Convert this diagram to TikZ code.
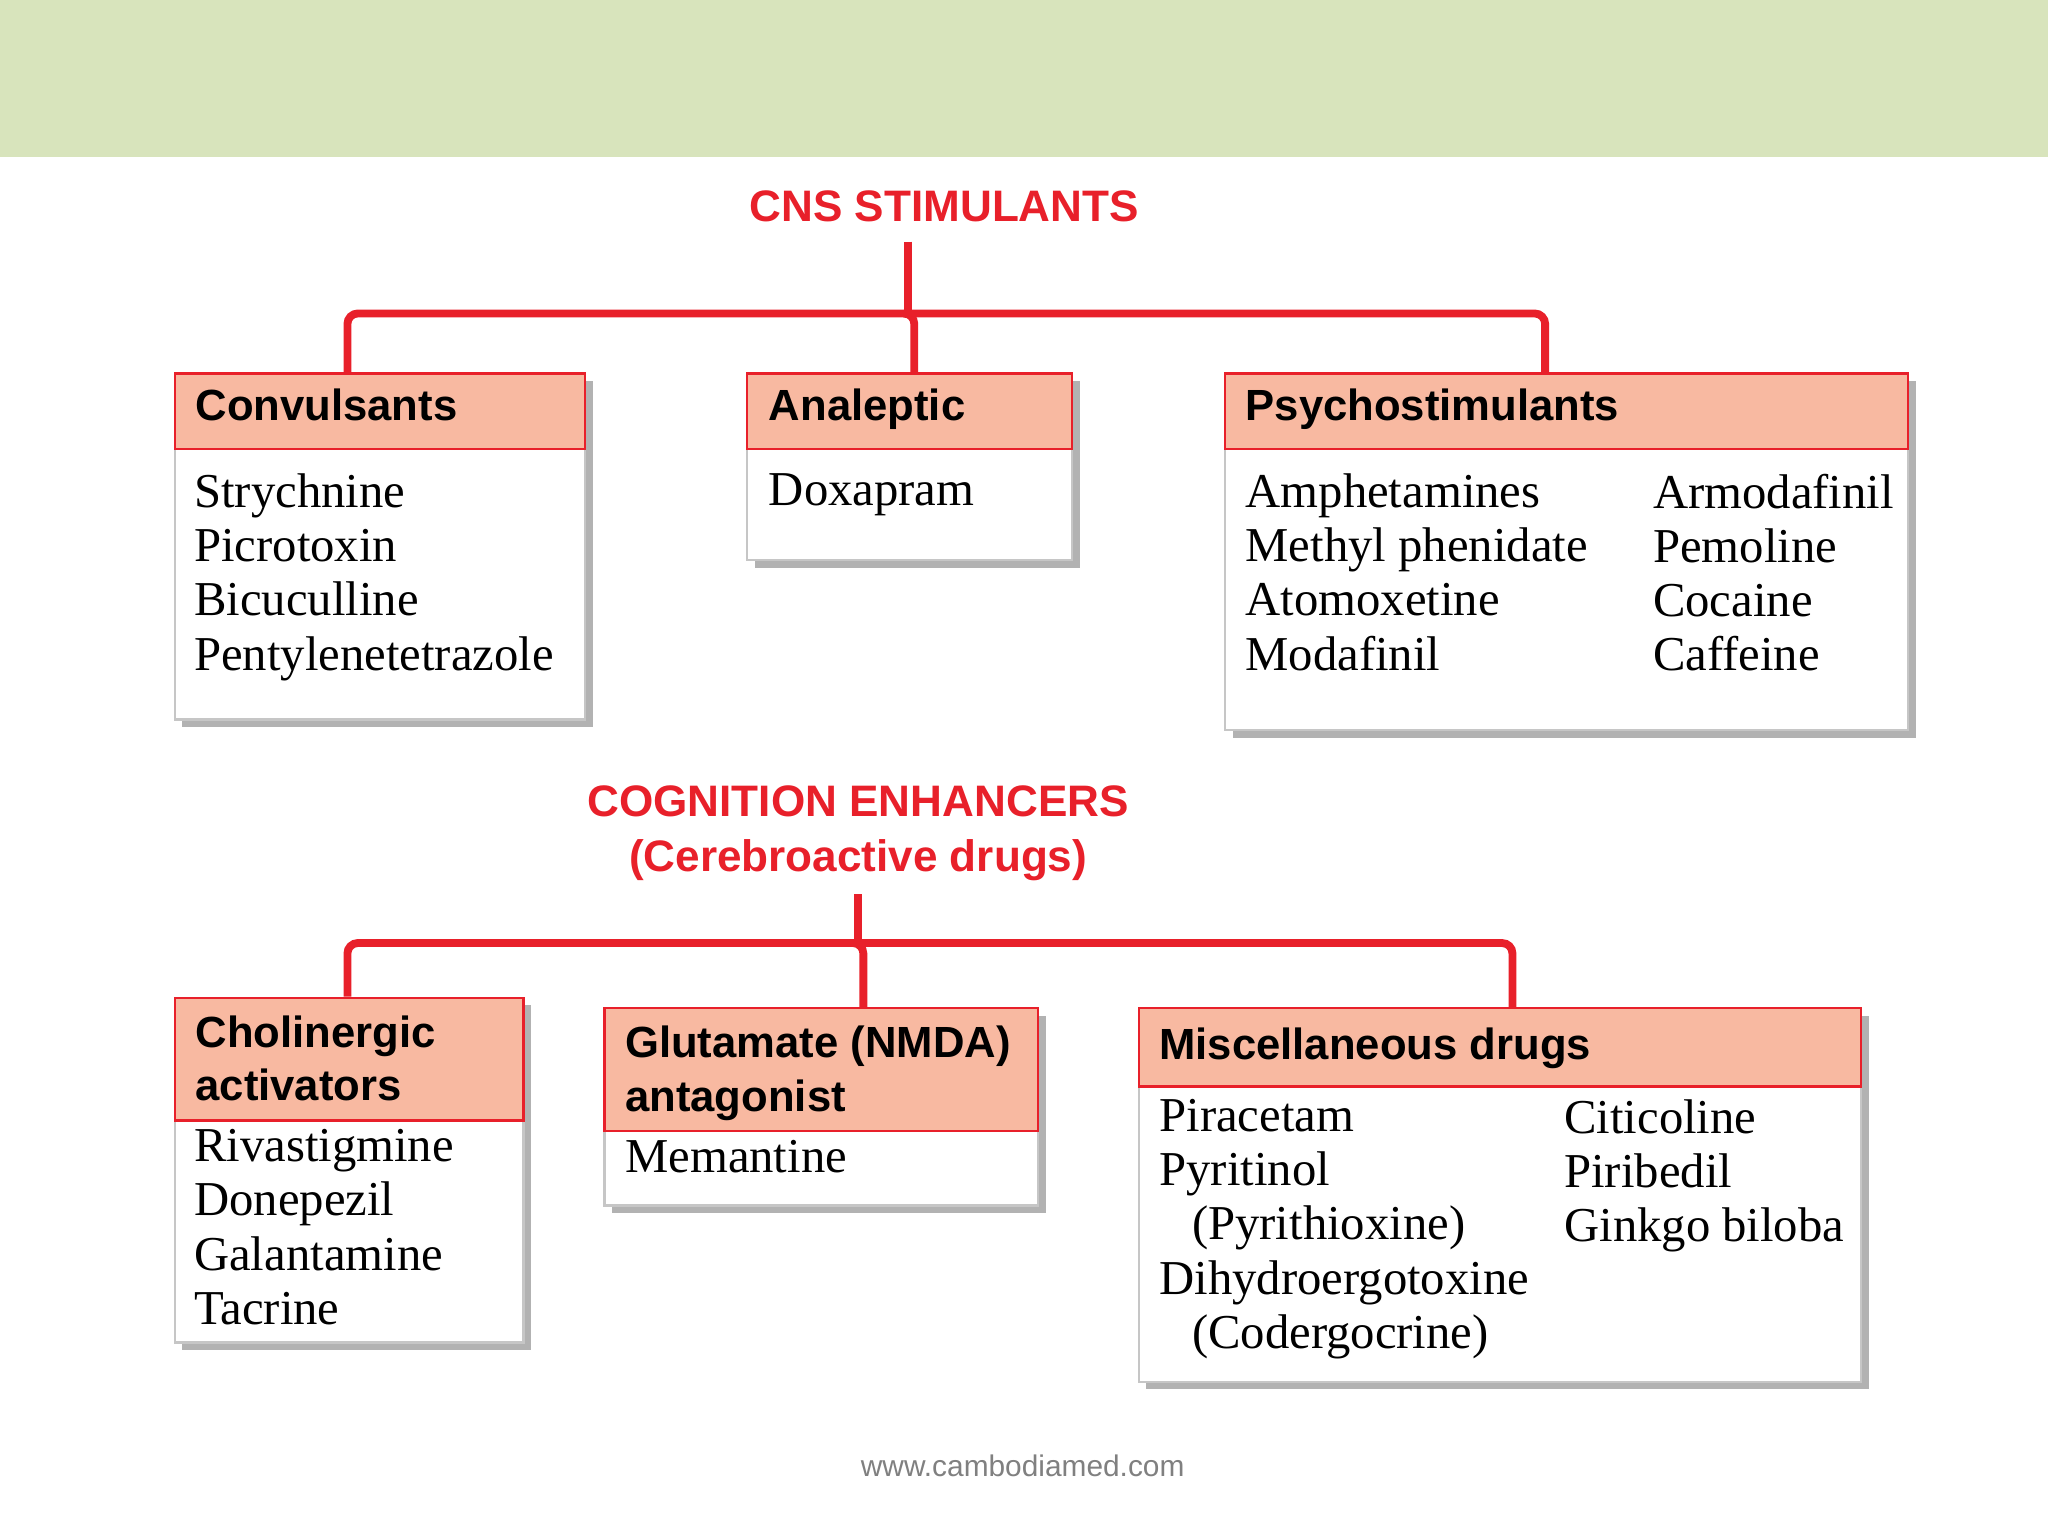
\documentclass[tikz,border=0pt]{standalone}
\usepackage{fontspec}
\setmainfont{Liberation Serif}
\setsansfont{Liberation Sans}
\begin{document}
\begin{tikzpicture}[x=0.01cm,y=-0.01cm,
  link/.style={draw=cnsred,line width=0.06cm,rounded corners=0.08cm},
  hdr/.style={draw=cnsred,line width=0.5pt,fill=hdrfill,anchor=north west,inner sep=0},
  body/.style={draw=gray!45,line width=0.5pt,fill=white,anchor=north west,inner sep=0},
  shadow/.style={fill=gray!60,draw=none,anchor=north west,inner sep=0},
  htxt/.style={font=\sffamily\bfseries\fontsize{9.5}{11.6}\selectfont,anchor=north west,align=left,inner sep=0},
  itm/.style={font=\fontsize{10.6}{11.8}\selectfont,anchor=north west,align=left,inner sep=0},
  ttl/.style={font=\sffamily\bfseries\fontsize{9.6}{11.8}\selectfont,text=cnsred,align=center,inner sep=0}]
\definecolor{cnsred}{HTML}{E8202A}
\definecolor{hdrfill}{HTML}{F8B9A1}
\definecolor{band}{HTML}{D8E4BC}
\useasboundingbox (0,0) rectangle (1568,1176);
\fill[band] (0,0) rectangle (1568,120);
\newcommand{\drugbox}[7]{%
  \node[shadow,minimum width=#4*0.01cm,minimum height=#6*0.01cm] (#1s) at (#2+6,#3+6) {};
  \node[body,minimum width=#4*0.01cm,minimum height=#6*0.01cm] (#1b) at (#2,#3) {};
  \node[hdr,minimum width=#4*0.01cm,minimum height=#5*0.01cm] (#1) at (#2,#3) {};}
\drugbox{conv}{133}{285}{314}{58}{265}{}
\drugbox{anal}{571}{285}{249}{58}{143}{}
\drugbox{psy}{937}{285}{523}{58}{273}{}
\drugbox{chol}{133}{763}{267}{94}{264}{}
\drugbox{glu}{462}{771}{332}{94}{151}{}
\drugbox{misc}{871}{771}{553}{60}{286}{}
\node[ttl] (cns) at (723,158) {CNS STIMULANTS};
\node[ttl] (cog) at (657,638) {COGNITION ENHANCERS\\(Cerebroactive drugs)};
\coordinate (j1) at (695,240);
\coordinate (j2) at (657,722);
\draw[link] (695,185) -- (j1);
\draw[link] (conv.north -| 266,0) -- (266,240) -- (1183,240) -- (psy.north -| 1183,0);
\draw[link] (695,240) -- (700,240) -- (anal.north -| 700,0);
\draw[link] (cog.south -| 657,0) ++(0,10) -- (j2);
\draw[link] (chol.north -| 266,0) -- (266,722) -- (1158,722) -- (misc.north -| 1158,0);
\draw[link] (657,722) -- (661,722) -- (glu.north -| 661,0);
\node[htxt] at (149,297) {Convulsants};
\node[htxt] at (588,297) {Analeptic};
\node[htxt] at (953,297) {Psychostimulants};
\node[htxt] at (149,777) {Cholinergic\\activators};
\node[htxt] at (478,785) {Glutamate (NMDA)\\antagonist};
\node[htxt] at (887,786) {Miscellaneous drugs};
\node[itm] at (148,362) {Strychnine\\Picrotoxin\\Bicuculline\\Pentylenetetrazole};
\node[itm] at (588,362) {Doxapram};
\node[itm] at (953,362) {Amphetamines\\Methyl phenidate\\Atomoxetine\\Modafinil};
\node[itm] at (1265,362) {Armodafinil\\Pemoline\\Cocaine\\Caffeine};
\node[itm] at (148,864) {Rivastigmine\\Donepezil\\Galantamine\\Tacrine};
\node[itm] at (478,872) {Memantine};
\node[itm] at (887,841) {Piracetam\\Pyritinol\\\hspace*{0.25cm}(Pyrithioxine)\\Dihydroergotoxine\\\hspace*{0.25cm}(Codergocrine)};
\node[itm] at (1197,841) {Citicoline\\Piribedil\\Ginkgo biloba};
\node[font=\sffamily\fontsize{6.5}{8}\selectfont,text=gray] (web) at (783,1122) {www.cambodiamed.com};
\end{tikzpicture}
\end{document}
